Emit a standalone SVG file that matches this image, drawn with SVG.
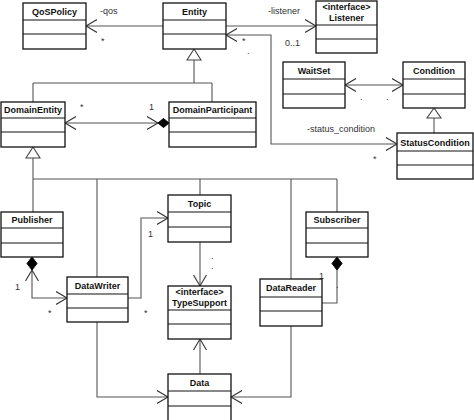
<svg xmlns="http://www.w3.org/2000/svg" width="474" height="420" viewBox="0 0 474 420">
<style>
.box{fill:#fff;stroke:#111;stroke-width:1.3}
.div{stroke:#111;stroke-width:1.2}
.t{font-family:"Liberation Sans",Arial,sans-serif;font-size:9px;font-weight:bold;fill:#111;text-anchor:middle}
.l{font-family:"Liberation Sans",Arial,sans-serif;font-size:9px;fill:#333}
.c{fill:none;stroke:#555;stroke-width:1.1}
.tri{fill:#fff;stroke:#444;stroke-width:1.1}
.dia{fill:#000;stroke:#000;stroke-width:1}
</style>
<defs>
<marker id="open" viewBox="0 0 14 14" refX="11" refY="7" markerWidth="14" markerHeight="14" markerUnits="userSpaceOnUse" orient="auto-start-reverse">
<path d="M0,0.5 L11,7 L0,13.5" fill="none" stroke="#333" stroke-width="1.1"/>
</marker>
</defs>
<rect width="474" height="420" fill="#fff"/>

<g id="connectors">
<!-- Entity -> QoSPolicy -->
<path class="c" d="M163,26 L86,26" marker-end="url(#open)"/>
<!-- Entity -> Listener -->
<path class="c" d="M226,26 L316,26" marker-end="url(#open)"/>
<!-- Entity <-> StatusCondition -->
<path class="c" d="M226,35 L271,35 L271,144 L397,144" marker-start="url(#open)" marker-end="url(#open)"/>
<!-- WaitSet <-> Condition -->
<path class="c" d="M345,85 L403,85" marker-start="url(#open)" marker-end="url(#open)"/>
<!-- Condition generalization -->
<path class="c" d="M434,118 L434,133"/>
<polygon class="tri" points="434,108 427,118 441,118"/>
<!-- Entity generalization -->
<path class="c" d="M194,60 L194,83 M33,83 L212,83 M33,83 L33,102 M212,83 L212,102"/>
<polygon class="tri" points="194,49 187,60 201,60"/>
<!-- DomainEntity <-> DomainParticipant composition -->
<path class="c" d="M65,123 L158,123" marker-start="url(#open)" marker-end="url(#open)"/>
<polygon class="dia" points="169,123 163.5,118.5 158,123 163.5,127.5"/>
<!-- DomainEntity generalization -->
<path class="c" d="M33,158 L33,179 M33,179 L337,179 M33,179 L33,212 M97,179 L97,277 M200,179 L200,195 M291,179 L291,279 M337,179 L337,212"/>
<polygon class="tri" points="33,147 26,158 40,158"/>
<!-- Publisher composition DataWriter -->
<polygon class="dia" points="32,257 27,263.5 32,270 37,263.5"/>
<path class="c" d="M32,270 L32,298 L67,298" marker-start="url(#open)" marker-end="url(#open)"/>
<!-- DataWriter -> Topic -->
<path class="c" d="M128,298 L141,298 L141,218 L168,218" marker-end="url(#open)"/>
<!-- Topic -> TypeSupport -->
<path class="c" d="M200,242 L200,286" marker-end="url(#open)"/>
<!-- Data -> TypeSupport -->
<path class="c" d="M200,374 L200,339" marker-end="url(#open)"/>
<!-- DataWriter -> Data -->
<path class="c" d="M97,322 L97,397 L168,397" marker-end="url(#open)"/>
<!-- DataReader -> Data -->
<path class="c" d="M291,326 L291,397 L231,397" marker-end="url(#open)"/>
<!-- Subscriber composition DataReader -->
<polygon class="dia" points="337,257 332,263.5 337,270 342,263.5"/>
<path class="c" d="M337,270 L337,303 L322,303"/>
</g>

<g id="labels">
<text class="l" x="100" y="14">-qos</text>
<text class="l" x="101" y="44">*</text>
<text class="l" x="268" y="14">-listener</text>
<text class="l" x="285" y="46">0..1</text>
<text class="l" x="242" y="44">*</text>
<text class="l" x="247" y="54">.</text>
<text class="l" x="360" y="100">.</text>
<text class="l" x="386" y="100">.</text>
<text class="l" x="307" y="132">-status_condition</text>
<text class="l" x="373" y="162">*</text>
<text class="l" x="80" y="110">*</text>
<text class="l" x="149" y="110">1</text>
<text class="l" x="15" y="290">1</text>
<text class="l" x="48" y="316">*</text>
<text class="l" x="148" y="237">1</text>
<text class="l" x="144" y="316">*</text>
<text class="l" x="211" y="259">.</text>
<text class="l" x="211" y="269">.</text>
<text class="l" x="319" y="279">1</text>
<text class="l" x="336" y="288">.</text>
</g>

<g id="QoSPolicy"><rect class="box" x="23" y="3" width="63" height="46"/><line class="div" x1="23" y1="20" x2="86" y2="20"/><line class="div" x1="23" y1="34" x2="86" y2="34"/><text class="t" x="54.5" y="15">QoSPolicy</text></g>
<g id="Entity"><rect class="box" x="163" y="3" width="63" height="46"/><line class="div" x1="163" y1="20" x2="226" y2="20"/><line class="div" x1="163" y1="34" x2="226" y2="34"/><text class="t" x="194.5" y="15">Entity</text></g>
<g id="Listener"><rect class="box" x="316" y="1" width="61" height="52"/><line class="div" x1="316" y1="25" x2="377" y2="25"/><line class="div" x1="316" y1="39" x2="377" y2="39"/><text class="t" x="346.5" y="10">&lt;interface&gt;</text><text class="t" x="346.5" y="21">Listener</text></g>
<g id="WaitSet"><rect class="box" x="283" y="62" width="62" height="46"/><line class="div" x1="283" y1="79" x2="345" y2="79"/><line class="div" x1="283" y1="94" x2="345" y2="94"/><text class="t" x="314" y="74">WaitSet</text></g>
<g id="Condition"><rect class="box" x="403" y="62" width="62" height="46"/><line class="div" x1="403" y1="79" x2="465" y2="79"/><line class="div" x1="403" y1="94" x2="465" y2="94"/><text class="t" x="434" y="74">Condition</text></g>
<g id="StatusCondition"><rect class="box" x="397" y="133" width="76" height="46"/><line class="div" x1="397" y1="151" x2="473" y2="151"/><line class="div" x1="397" y1="165" x2="473" y2="165"/><text class="t" x="435" y="146">StatusCondition</text></g>
<g id="DomainEntity"><rect class="box" x="1" y="102" width="64" height="45"/><line class="div" x1="1" y1="118" x2="65" y2="118"/><line class="div" x1="1" y1="132" x2="65" y2="132"/><text class="t" x="33" y="113">DomainEntity</text></g>
<g id="DomainParticipant"><rect class="box" x="169" y="102" width="87" height="45"/><line class="div" x1="169" y1="118" x2="256" y2="118"/><line class="div" x1="169" y1="132" x2="256" y2="132"/><text class="t" x="212.5" y="113">DomainParticipant</text></g>
<g id="Publisher"><rect class="box" x="1" y="212" width="62" height="45"/><line class="div" x1="1" y1="228" x2="63" y2="228"/><line class="div" x1="1" y1="243" x2="63" y2="243"/><text class="t" x="32" y="223">Publisher</text></g>
<g id="Subscriber"><rect class="box" x="306" y="212" width="62" height="45"/><line class="div" x1="306" y1="228" x2="368" y2="228"/><line class="div" x1="306" y1="243" x2="368" y2="243"/><text class="t" x="337" y="223">Subscriber</text></g>
<g id="Topic"><rect class="box" x="168" y="195" width="63" height="47"/><line class="div" x1="168" y1="212" x2="231" y2="212"/><line class="div" x1="168" y1="227" x2="231" y2="227"/><text class="t" x="199.5" y="207">Topic</text></g>
<g id="DataWriter"><rect class="box" x="67" y="277" width="61" height="45"/><line class="div" x1="67" y1="294" x2="128" y2="294"/><line class="div" x1="67" y1="308" x2="128" y2="308"/><text class="t" x="97.5" y="289">DataWriter</text></g>
<g id="DataReader"><rect class="box" x="260" y="279" width="62" height="47"/><line class="div" x1="260" y1="297" x2="322" y2="297"/><line class="div" x1="260" y1="311" x2="322" y2="311"/><text class="t" x="291" y="291">DataReader</text></g>
<g id="TypeSupport"><rect class="box" x="168" y="286" width="63" height="53"/><line class="div" x1="168" y1="310" x2="231" y2="310"/><line class="div" x1="168" y1="324" x2="231" y2="324"/><text class="t" x="199.5" y="295">&lt;interface&gt;</text><text class="t" x="199.5" y="306">TypeSupport</text></g>
<g id="Data"><rect class="box" x="168" y="374" width="63" height="50"/><line class="div" x1="168" y1="391" x2="231" y2="391"/><line class="div" x1="168" y1="406" x2="231" y2="406"/><text class="t" x="199.5" y="386">Data</text></g>
</svg>
